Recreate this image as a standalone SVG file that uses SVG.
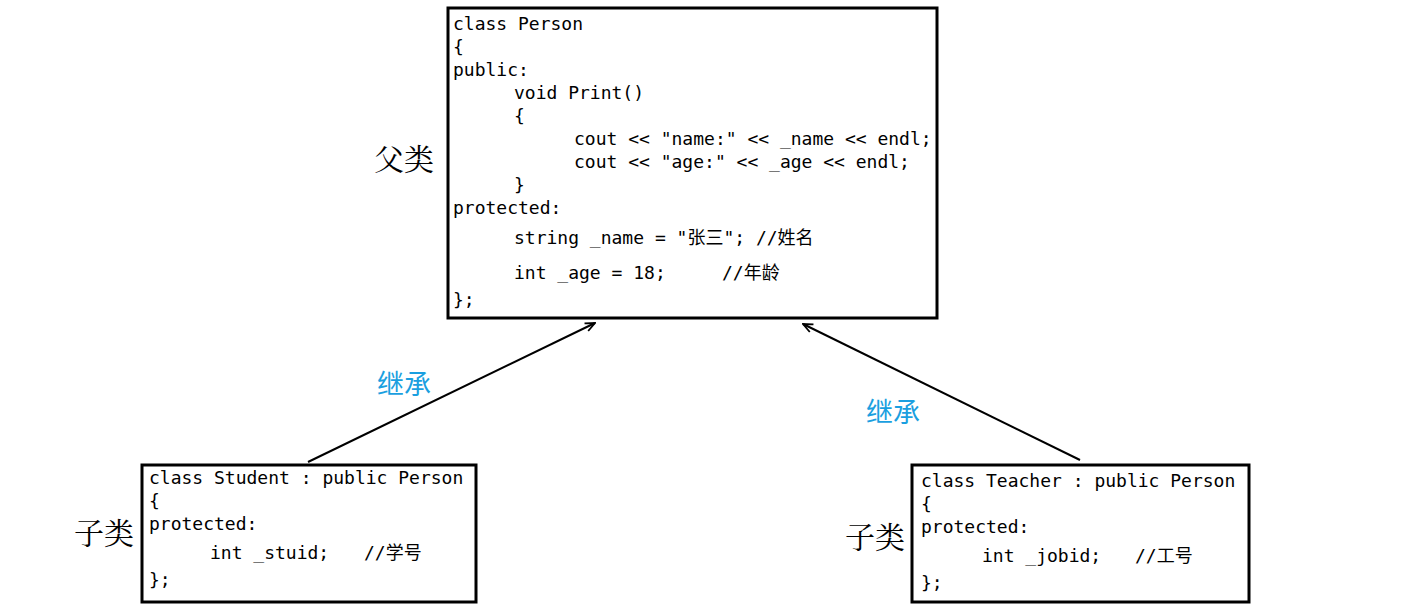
<svg xmlns="http://www.w3.org/2000/svg" width="1420" height="611" viewBox="0 0 1420 611">
<defs>
<style>
.box{fill:#fff;stroke:#000;stroke-width:3}
.code{font-family:"DejaVu Sans Mono","Noto Sans CJK SC",monospace;font-size:18px;fill:#000}
.lbl{font-family:"Noto Serif CJK SC","Noto Sans CJK SC",serif;font-size:30px;fill:#000}
.inh{font-family:"Noto Sans CJK SC",sans-serif;font-size:27px;fill:#1a9fe0}
.ln{stroke:#000;stroke-width:2;fill:none}
</style>
<marker id="ah" viewBox="0 0 20 20" refX="18" refY="10" markerWidth="12" markerHeight="12" markerUnits="userSpaceOnUse" orient="auto">
<path d="M2,3 L18,10 L2,17" fill="none" stroke="#000" stroke-width="3"/>
</marker>
</defs>
<rect width="1420" height="611" fill="#fff"/>
<g id="connectors">
<line class="ln" x1="308" y1="462" x2="595" y2="323" marker-end="url(#ah)"/>
<line class="ln" x1="1080" y1="460" x2="803" y2="324" marker-end="url(#ah)"/>
<text class="inh" x="377" y="394">继承</text>
<text class="inh" x="866" y="422">继承</text>
</g>
<g id="person">
<rect class="box" x="448" y="8" width="489" height="310"/>
<text class="code" x="453" y="30">class Person</text>
<text class="code" x="453" y="53">{</text>
<text class="code" x="453" y="76">public:</text>
<text class="code" x="514" y="99">void Print()</text>
<text class="code" x="514" y="122">{</text>
<text class="code" x="574" y="145">cout &lt;&lt; "name:" &lt;&lt; _name &lt;&lt; endl;</text>
<text class="code" x="574" y="168">cout &lt;&lt; "age:" &lt;&lt; _age &lt;&lt; endl;</text>
<text class="code" x="514" y="191">}</text>
<text class="code" x="453" y="214">protected:</text>
<text class="code" x="514" y="244">string _name = "张三"; //姓名</text>
<text class="code" x="514" y="279">int _age = 18;</text>
<text class="code" x="722" y="279">//年龄</text>
<text class="code" x="453" y="306">};</text>
<text class="lbl" x="374" y="170">父类</text>
</g>
<g id="student">
<rect class="box" x="142" y="465" width="334" height="137"/>
<text class="code" x="149" y="484">class Student : public Person</text>
<text class="code" x="149" y="507">{</text>
<text class="code" x="149" y="530">protected:</text>
<text class="code" x="210" y="559">int _stuid;</text>
<text class="code" x="364" y="559">//学号</text>
<text class="code" x="149" y="586">};</text>
<text class="lbl" x="74" y="544">子类</text>
</g>
<g id="teacher">
<rect class="box" x="912" y="465" width="337" height="137"/>
<text class="code" x="921" y="487">class Teacher : public Person</text>
<text class="code" x="921" y="510">{</text>
<text class="code" x="921" y="533">protected:</text>
<text class="code" x="982" y="562">int _jobid;</text>
<text class="code" x="1135" y="562">//工号</text>
<text class="code" x="921" y="589">};</text>
<text class="lbl" x="845" y="548">子类</text>
</g>
</svg>
